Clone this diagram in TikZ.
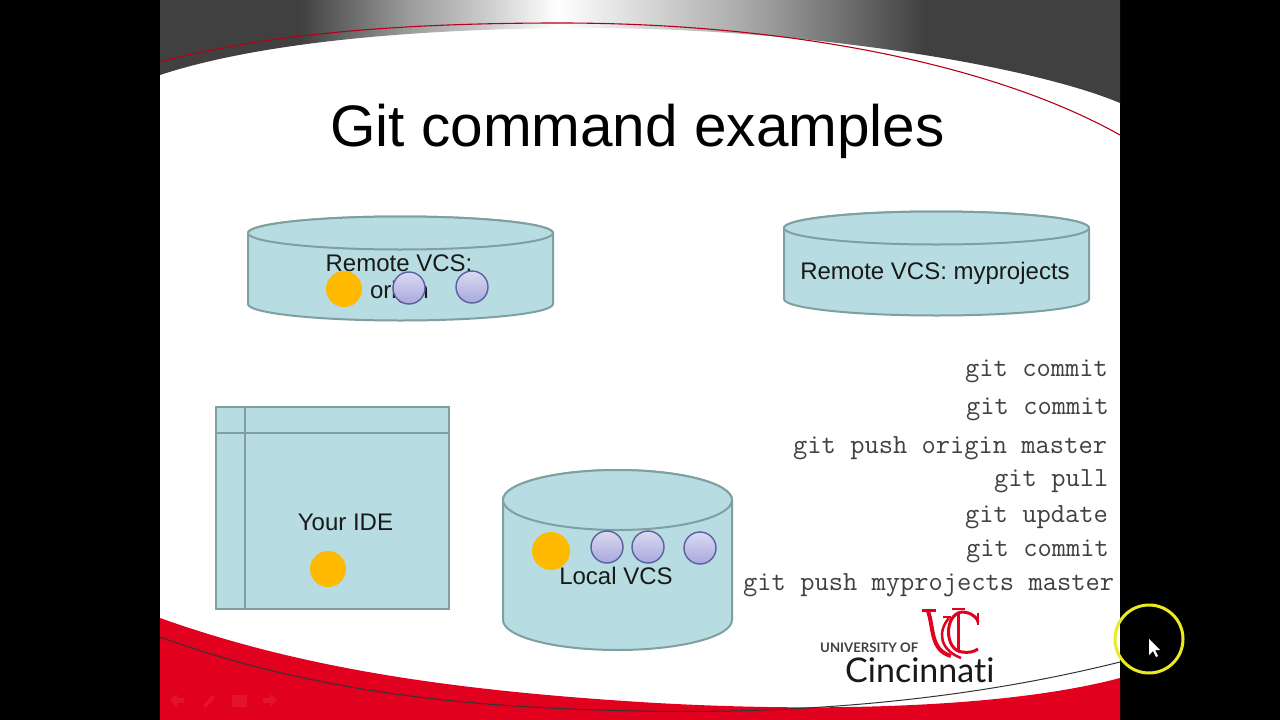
\documentclass[tikz,border=0pt]{standalone}
\usepackage{fontspec}
\setmainfont{Liberation Sans}
\newfontfamily\logofont{Lato}
\usetikzlibrary{positioning}
\definecolor{drumfill}{HTML}{B7DDE2}
\definecolor{drumline}{HTML}{7F9FA0}
\definecolor{ucred}{HTML}{E2001F}
\definecolor{ucorange}{HTML}{FFB900}
\definecolor{headdark}{HTML}{404040}
\definecolor{cursorring}{HTML}{EAEA22}
\definecolor{balltop}{HTML}{DADAF0}
\definecolor{ballbottom}{HTML}{A8A8DE}
\definecolor{ballline}{HTML}{5A5FA0}
\pgfdeclarehorizontalshading{headglow}{100bp}{
  color(0bp)=(headdark); color(32.3bp)=(headdark); color(37.8bp)=(black!40);
  color(42bp)=(black!20); color(45.7bp)=(white); color(55.3bp)=(black!33);
  color(64.8bp)=(headdark); color(100bp)=(headdark)}
\newcommand{\pxfont}[1]{\fontsize{#1}{#1}\selectfont}
% drum: x left, x right, y of rim, half height of lid, y of bottom rim
\newcommand{\drum}[5]{
  \draw[drumbody] (#1,#3) arc[start angle=180, end angle=360, x radius={(#2-#1)/2}, y radius=#4]
    -- (#2,#5) arc[start angle=0, end angle=180, x radius={(#2-#1)/2}, y radius=#4] -- cycle;
  \draw[drumbody] (#1,#3) arc[start angle=180, end angle=540, x radius={(#2-#1)/2}, y radius=#4];
}
\begin{document}
\begin{tikzpicture}[x=1pt, y=-1pt,
    drumbody/.style={draw=drumline, fill=drumfill, line width=2pt},
    label/.style={inner sep=0pt, font=\pxfont{24}, text=black!90},
    command/.style={inner sep=0pt, anchor=base west, font=\ttfamily\pxfont{27.7}, text=black!75},
    commit/.style={circle, inner sep=0pt, minimum size=36pt, fill=ucorange},
    version/.style={circle, inner sep=0pt, minimum size=32pt, draw=ballline, line width=1.4pt,
      top color=balltop, bottom color=ballbottom},
    navmark/.style={fill=white, opacity=.07}
  ]
  \useasboundingbox (0,0) rectangle (1280,720);
  \fill[black] (0,0) rectangle (1280,720);
  \fill[white] (160,0) rectangle (1120,720);

  % header band
  \shade[shading=headglow] (160,0) -- (1120,0) -- (1120,103)
    .. controls (1030,65) and (800,28) .. (590,28)
    .. controls (420,28) and (260,42) .. (160,75) -- cycle;
  \draw[ucred!80!black, line width=1.1pt] (160,62) .. controls (280,30) and (430,23) .. (560,23)
    .. controls (780,23) and (990,62) .. (1120,135);

  % footer band
  \fill[ucred] (160,618) .. controls (300,668) and (450,690) .. (640,702)
    .. controls (800,712) and (1000,710) .. (1120,678) -- (1120,720) -- (160,720) -- cycle;
  \draw[black!80, line width=1pt] (160,637) .. controls (320,695) and (480,708) .. (640,711)
    .. controls (840,715) and (1000,692) .. (1120,662);
  \fill[navmark] (170,700) -- (177,694) -- (177,698) -- (184,698) -- (184,703) -- (177,703) -- (177,707) -- cycle;
  \fill[navmark] (203,706) -- (212,695) -- (215,697) -- (206,708) -- cycle;
  \fill[navmark] (232,695) rectangle (247,707);
  \fill[navmark] (277,700) -- (270,694) -- (270,698) -- (263,698) -- (263,703) -- (270,703) -- (270,707) -- cycle;

  \node[font=\pxfont{58.5}, inner sep=0pt] (title) at (637.5,131) {Git command examples};

  % remote drums
  \drum{248}{553}{233}{16.5}{304}
  \drum{784}{1089}{228}{16.5}{299}
  \node[label] (originname) at (399,263) {Remote VCS:};
  \node[label] (originword) at (399.5,292) {origin};
  \node[label] (myprojects) at (935,273) {Remote VCS: myprojects};
  \node[commit] (origina) at (344,289) {};
  \node[version] (originb) at (409,288) {};
  \node[version] (originc) at (472,287) {};

  % ide window
  \draw[drumbody] (216,407) rectangle (449,609);
  \draw[drumbody] (245,407) -- (245,609);
  \draw[drumbody] (216,433) -- (449,433);
  \node[label] (ide) at (345.5,522) {Your IDE};
  \node[commit] (idea) at (328,569) {};

  % local drum
  \drum{503}{732}{500}{30}{620}
  \node[commit, minimum size=38pt] (locala) at (551,551) {};
  \node[version] (localb) at (607,547) {};
  \node[version] (localc) at (648,547) {};
  \node[version] (locald) at (700,548) {};
  \node[label] (local) at (616,576) {Local VCS};

  % commands
  \node[command] (cmda) at (965,376) {git commit};
  \node[command] (cmdb) at (966,414) {git commit};
  \node[command] (cmdc) at (793,453) {git push origin master};
  \node[command] (cmdd) at (994,486) {git pull};
  \node[command] (cmde) at (965,522) {git update};
  \node[command] (cmdf) at (966,556) {git commit};
  \node[command] (cmdg) at (743,590) {git push myprojects master};

  % logo
  \node[inner sep=0pt, anchor=base west, font=\logofont\bfseries\pxfont{13.2}, text=black!75] (univ) at (820,652) {UNIVERSITY OF};
  \node[inner sep=0pt, anchor=base west, font=\logofont\pxfont{34}, text=black!90] (cinci) at (845,682) {Cincinnat\kern0pt i};
  \draw[ucred, line width=2.5pt] (922,610.5) -- (936,610.5);
  \draw[ucred, line width=4pt] (928,611) .. controls (934,628) and (930,650) .. (951,656);
  \draw[ucred, line width=2.5pt] (949,618) .. controls (937,632) and (940,650) .. (961,658);
  \draw[ucred, line width=2pt] (943,617) -- (951,617);
  \draw[ucred, line width=3pt] (978,622) .. controls (976,614) and (966,612) .. (962,612)
    .. controls (944,614) and (944,650) .. (962,652) .. controls (968,653) and (974,652) .. (978,649);
  \draw[ucred, line width=2pt] (978,613) -- (978,625);
  \draw[ucred, line width=3pt] (958,612) -- (958,650);
  \draw[ucred, line width=2pt] (952,609) -- (965,609);

  % pointer
  \draw[cursorring, line width=3pt] (1149,639) circle[radius=34];
  \fill[white] (1149,639) -- (1149,655) -- (1153,651) -- (1156,657) -- (1158,656) -- (1155,650) -- (1160,650) -- cycle;
\end{tikzpicture}
\end{document}
